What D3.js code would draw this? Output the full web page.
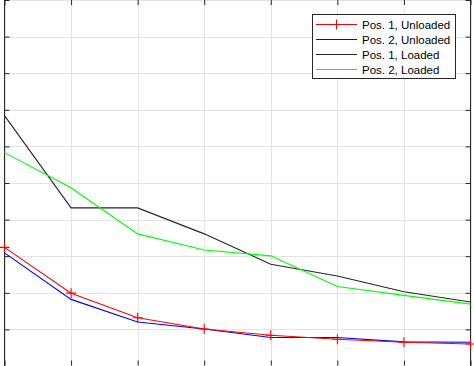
<!DOCTYPE html>
<html>
<head>
<meta charset="utf-8">
<script src="https://cdn.jsdelivr.net/npm/d3@7"></script>
<style>
  body { margin: 0; background: #fff; }
  svg { display: block; }
</style>
</head>
<body>
<div id="chart"></div>
<script>
// values (y in grid units, 0 = bottom, 10 = top)
var xIndex = [0, 1, 2, 3, 4, 5, 6, 7];
var pos1Unloaded = [3.24, 1.99, 1.32, 1.01, 0.84, 0.73, 0.65, 0.60];
var pos2Unloaded = [3.09, 1.82, 1.20, 1.01, 0.78, 0.78, 0.66, 0.65];
var pos1Loaded   = [6.84, 4.32, 4.32, 3.61, 2.78, 2.46, 2.03, 1.75];
var pos2Loaded   = [5.83, 4.87, 3.61, 3.17, 3.01, 2.17, 1.93, 1.69];
var seriesNames  = ["Pos. 1, Unloaded", "Pos. 2, Unloaded", "Pos. 1, Loaded", "Pos. 2, Loaded"];
var seriesColors = ["#ff0000", "#0000ff", "#262626", "#00ff00"];
var yTicks = [0, 1, 2, 3, 4, 5, 6, 7, 8, 9, 10];

(function(){
var width = 474, height = 366;
var pLeft = 4.5, pRight = 470.5, pTop = 0, pBottom = 366;

var svg = d3.select("#chart").append("svg")
    .attr("width", width)
    .attr("height", height);

var x = d3.scaleLinear().domain([0, 7]).range([pLeft, pRight]);
var y = d3.scaleLinear().domain([0, 10]).range([pBottom, pTop]);

// grid
svg.append("g")
    .selectAll("line")
    .data(xIndex)
    .enter().append("line")
    .attr("x1", function(d){ return Math.round(x(d)) + 0.5; })
    .attr("x2", function(d){ return Math.round(x(d)) + 0.5; })
    .attr("y1", pTop).attr("y2", pBottom)
    .style("stroke", "#e4e4e4");
svg.append("g")
    .selectAll("line")
    .data(yTicks)
    .enter().append("line")
    .attr("y1", function(d){ return Math.round(y(d)) + 0.5; })
    .attr("y2", function(d){ return Math.round(y(d)) + 0.5; })
    .attr("x1", pLeft).attr("x2", pRight)
    .style("stroke", "#e4e4e4");

// axes (ticks pointing inward, no labels)
var axColor = "#262626";
function styleAxis(g) {
  g.selectAll("text").remove();
  g.select(".domain").remove();
  g.selectAll("line").style("stroke", axColor);
}
svg.append("g").attr("transform", "translate(" + pLeft + ",0)")
    .call(d3.axisLeft(y).tickValues(yTicks).tickSize(-5).tickFormat(""))
    .call(styleAxis);
svg.append("g").attr("transform", "translate(" + pRight + ",0)")
    .call(d3.axisRight(y).tickValues(yTicks).tickSize(-5).tickFormat(""))
    .call(styleAxis);
svg.append("g").attr("transform", "translate(0," + pTop + ")")
    .call(d3.axisTop(x).tickValues(xIndex).tickSize(-5).tickFormat(""))
    .call(styleAxis);
svg.append("g").attr("transform", "translate(0," + (pBottom - 0.5) + ")")
    .call(d3.axisBottom(x).tickValues(xIndex).tickSize(-5).tickFormat(""))
    .call(styleAxis);

svg.append("line").attr("x1", pLeft).attr("x2", pLeft).attr("y1", pTop).attr("y2", pBottom)
    .style("stroke", axColor);
svg.append("line").attr("x1", pRight).attr("x2", pRight).attr("y1", pTop).attr("y2", pBottom)
    .style("stroke", axColor);

// lines
var allSeries = [pos1Unloaded, pos2Unloaded, pos1Loaded, pos2Loaded];
var line = d3.line()
    .x(function(d, i){ return x(xIndex[i]); })
    .y(function(d){ return y(d); });

// draw loaded first, then unloaded on top
[2, 3, 1, 0].forEach(function(k){
  svg.append("path")
    .datum(allSeries[k])
    .attr("d", line)
    .style("fill", "none")
    .style("stroke", seriesColors[k])
    .style("stroke-width", 1.1);
});

// red + markers
svg.append("g").selectAll("path")
    .data(pos1Unloaded)
    .enter().append("path")
    .attr("d", function(d, i){
      var cx = x(xIndex[i]), cy = y(d);
      return "M" + (cx - 5) + "," + cy + "H" + (cx + 5) + "M" + cx + "," + (cy - 5) + "V" + (cy + 5);
    })
    .style("stroke", "#ff0000")
    .style("stroke-width", 1.1);

// legend
var lg = svg.append("g");
lg.append("rect")
    .attr("x", 312.5).attr("y", 14.5)
    .attr("width", 143).attr("height", 64)
    .style("fill", "#fff")
    .style("stroke", axColor);
var rowY = [24.5, 39.5, 54.5, 69.5];
seriesNames.forEach(function(name, k){
  lg.append("line")
    .attr("x1", 316).attr("x2", 357)
    .attr("y1", rowY[k]).attr("y2", rowY[k])
    .style("stroke", seriesColors[k])
    .style("stroke-width", 1.1);
  if (k === 0) {
    lg.append("path")
      .attr("d", "M336.5," + (rowY[k] - 5) + "V" + (rowY[k] + 5))
      .style("stroke", "#ff0000");
  }
  lg.append("text")
    .attr("x", 362).attr("y", rowY[k] + 4)
    .text(name)
    .style("font-family", "Liberation Sans, Arial, sans-serif")
    .style("font-size", "11.5px")
    .style("fill", "#000");
});
})();
</script>
</body>
</html>
